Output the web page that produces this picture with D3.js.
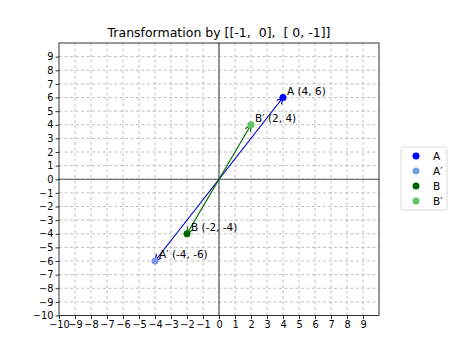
<!DOCTYPE html>
<html><head><meta charset="utf-8">
<script src="https://cdn.jsdelivr.net/npm/d3@7"></script>
<style>body{margin:0;background:#fff}svg{display:block}text{font-family:"DejaVu Sans",sans-serif;white-space:pre}</style>
</head><body>
<svg id="c" width="474" height="355"></svg>
<script>
const title = "Transformation by [[-1,  0],  [ 0, -1]]";
const xTicks = d3.range(-10, 10);
const yTicks = d3.range(-10, 10);
const pointNames = ["A", "A′", "B", "B′"];
const pointX = [4, -4, -2, 2];
const pointY = [6, -6, -4, 4];
const pointLabels = ["A (4, 6)", "A′ (-4, -6)", "B (-2, -4)", "B′ (2, 4)"];
const pointColors = ["#0000ff", "#7b98e4", "#006400", "#62c462"];
const arrowColors = ["#0000cc", "#0000cc", "#007000", "#007000"];

const svg = d3.select("#c");
const L = 59, R = 379, T = 43, B = 315.5;
const x = d3.scaleLinear().domain([-10, 10]).range([L, R]);
const y = d3.scaleLinear().domain([-10, 10]).range([B, T]);

// grid
const g = svg.append("g");
g.selectAll(".gx").data(xTicks.filter(d => d !== -10)).enter().append("line")
  .attr("x1", d => x(d)).attr("x2", d => x(d)).attr("y1", T).attr("y2", B)
  .attr("stroke", "#b0b0b0").attr("stroke-width", 0.8).attr("stroke-dasharray", "3,2.5");
g.selectAll(".gy").data(yTicks.filter(d => d !== -10)).enter().append("line")
  .attr("y1", d => y(d)).attr("y2", d => y(d)).attr("x1", L).attr("x2", R)
  .attr("stroke", "#b0b0b0").attr("stroke-width", 0.8).attr("stroke-dasharray", "3,2.5");

// zero axes
svg.append("line").attr("x1", x(0)).attr("x2", x(0)).attr("y1", T).attr("y2", B).attr("stroke", "#555").attr("stroke-width", 1.2);
svg.append("line").attr("y1", y(0)).attr("y2", y(0)).attr("x1", L).attr("x2", R).attr("stroke", "#555").attr("stroke-width", 1.2);

// axes
const fmt = d => (d < 0 ? "\u2212" + Math.abs(d) : String(d));
const xa = svg.append("g").attr("transform", `translate(0,${B})`)
  .call(d3.axisBottom(x).tickValues(xTicks).tickFormat(fmt).tickSize(3.5).tickPadding(2));
const ya = svg.append("g").attr("transform", `translate(${L},0)`)
  .call(d3.axisLeft(y).tickValues(yTicks).tickFormat(fmt).tickSize(3.5).tickPadding(2));
[xa, ya].forEach(a => {
  a.select(".domain").remove();
  a.selectAll("text").attr("font-size", 9.8).attr("fill", "#000").style("font-family", '"DejaVu Sans",sans-serif');
  a.selectAll("line").attr("stroke", "#000").attr("stroke-width", 0.8);
});
svg.append("rect").attr("x", L).attr("y", T).attr("width", R - L).attr("height", B - T)
  .attr("fill", "none").attr("stroke", "#000").attr("stroke-width", 0.8);

// arrows from origin
pointNames.forEach((n, i) => {
  const x0 = x(0), y0 = y(0), x1 = x(pointX[i]), y1 = y(pointY[i]);
  svg.append("line").attr("x1", x0).attr("y1", y0).attr("x2", x1).attr("y2", y1)
    .attr("stroke", arrowColors[i]).attr("stroke-width", 1.2);
  const ang = Math.atan2(y1 - y0, x1 - x0);
  const hl = 7, ha = 0.45;
  const p1 = [x1 - hl * Math.cos(ang - ha), y1 - hl * Math.sin(ang - ha)];
  const p2 = [x1 - hl * Math.cos(ang + ha), y1 - hl * Math.sin(ang + ha)];
  svg.append("path").attr("d", `M${p1[0]},${p1[1]}L${x1},${y1}L${p2[0]},${p2[1]}`)
    .attr("fill", "none").attr("stroke", arrowColors[i]).attr("stroke-width", 1.2);
});

// points
pointNames.forEach((n, i) => {
  svg.append("circle").attr("cx", x(pointX[i])).attr("cy", y(pointY[i])).attr("r", 3.5)
    .attr("fill", pointColors[i]);
  svg.append("text").attr("x", x(pointX[i]) + 4).attr("y", y(pointY[i]) - 3)
    .attr("font-size", 10.5).attr("fill", "#000").text(pointLabels[i]);
});

// title
svg.append("text").attr("x", (L + R) / 2).attr("y", 37).attr("text-anchor", "middle")
  .attr("xml:space", "preserve")
  .attr("font-size", 12.5).attr("fill", "#000").text(title);

// legend
const lg = svg.append("g");
lg.append("rect").attr("x", 401).attr("y", 147).attr("width", 46).attr("height", 63).attr("rx", 2)
  .attr("fill", "#fff").attr("stroke", "#d0d0d0").attr("stroke-width", 0.8);
pointNames.forEach((n, i) => {
  const yy = 156 + i * 15;
  lg.append("circle").attr("cx", 416).attr("cy", yy).attr("r", 3.5).attr("fill", pointColors[i]);
  lg.append("text").attr("x", 433).attr("y", yy + 4).attr("font-size", 10.5).attr("fill", "#000").text(n);
});
</script>
</body></html>
